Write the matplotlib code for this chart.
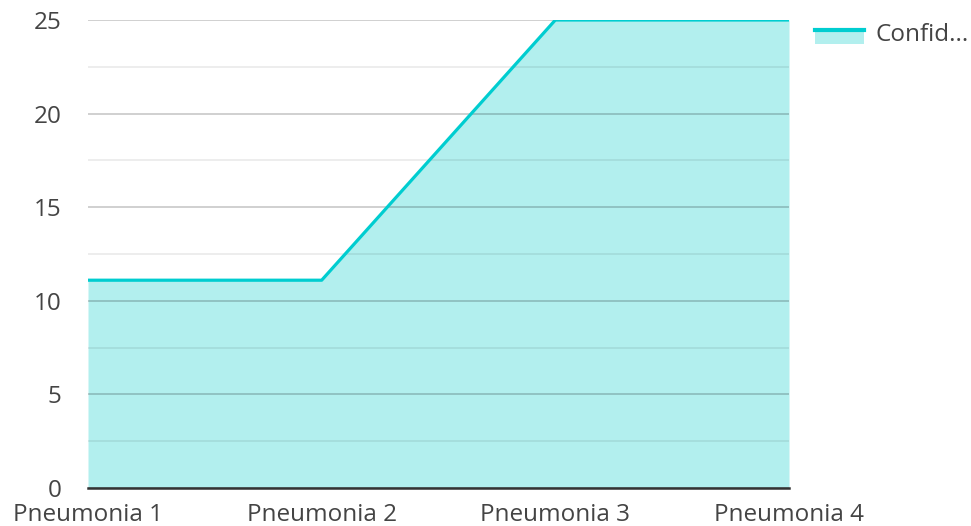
import matplotlib.pyplot as plt
from matplotlib.patches import Rectangle
from matplotlib.lines import Line2D
from matplotlib.legend_handler import HandlerBase

plt.rcParams['font.family'] = ['Open Sans', 'DejaVu Sans']

# data
categories = ["Pneumonia 1", "Pneumonia 2", "Pneumonia 3", "Pneumonia 4"]
confidence = [11.1, 11.1, 25, 25]
series_label = "Confid..."

line_color = "#00cdd0"
fill_color = "#b2efee"
text_color = "#444444"


class AreaHandler(HandlerBase):
    # legend key: filled box with the line drawn along its top edge
    def create_artists(self, legend, orig_handle, xdescent, ydescent,
                       width, height, fontsize, trans):
        bottom = -ydescent - 0.25 * height
        top = -ydescent + 0.64 * height
        rect = Rectangle((-xdescent, bottom), width, top - bottom,
                         facecolor=fill_color, edgecolor="none", transform=trans)
        ln = Line2D([-xdescent, -xdescent + width], [top, top],
                    color=line_color, lw=3, transform=trans)
        return [rect, ln]


fig = plt.figure(figsize=(9.71, 5.26), dpi=100)
ax = fig.add_axes([88 / 971, 38 / 526, 701 / 971, 468 / 526])

x = list(range(len(categories)))
ax.fill_between(x, confidence, 0, color=fill_color, lw=0, zorder=1)
ax.plot(x, confidence, color=line_color, lw=2.3, zorder=4, solid_capstyle="butt")

ax.set_xlim(0, len(categories) - 1)
ax.set_ylim(0, 25)
ax.set_yticks([0, 5, 10, 15, 20, 25])
ax.set_yticks([2.5, 7.5, 12.5, 17.5, 22.5], minor=True)
ax.set_xticks(x)
ax.set_xticklabels(categories)

ax.grid(axis="y", which="major", color="black", alpha=0.2, lw=1.3, zorder=2)
ax.grid(axis="y", which="minor", color="black", alpha=0.08, lw=1.3, zorder=2)
ax.set_axisbelow(False)

for s in ["top", "right", "left"]:
    ax.spines[s].set_visible(False)
ax.spines["bottom"].set_color("#333333")
ax.spines["bottom"].set_linewidth(1.8)
ax.spines["bottom"].set_zorder(5)

ax.tick_params(axis="both", which="both", length=0, labelsize=17.5, colors=text_color)
ax.tick_params(axis="y", pad=19)
ax.tick_params(axis="x", pad=11)

ax.legend([object()], [series_label], handler_map={object: AreaHandler()},
          loc="upper left", bbox_to_anchor=(815 / 971, 1 - 23 / 526), bbox_transform=fig.transFigure,
          frameon=False, fontsize=17.5, labelcolor=text_color,
          handlelength=2.0, handleheight=0.6, handletextpad=0.5, borderpad=0, borderaxespad=0)

fig.savefig("out.png", dpi=100)
